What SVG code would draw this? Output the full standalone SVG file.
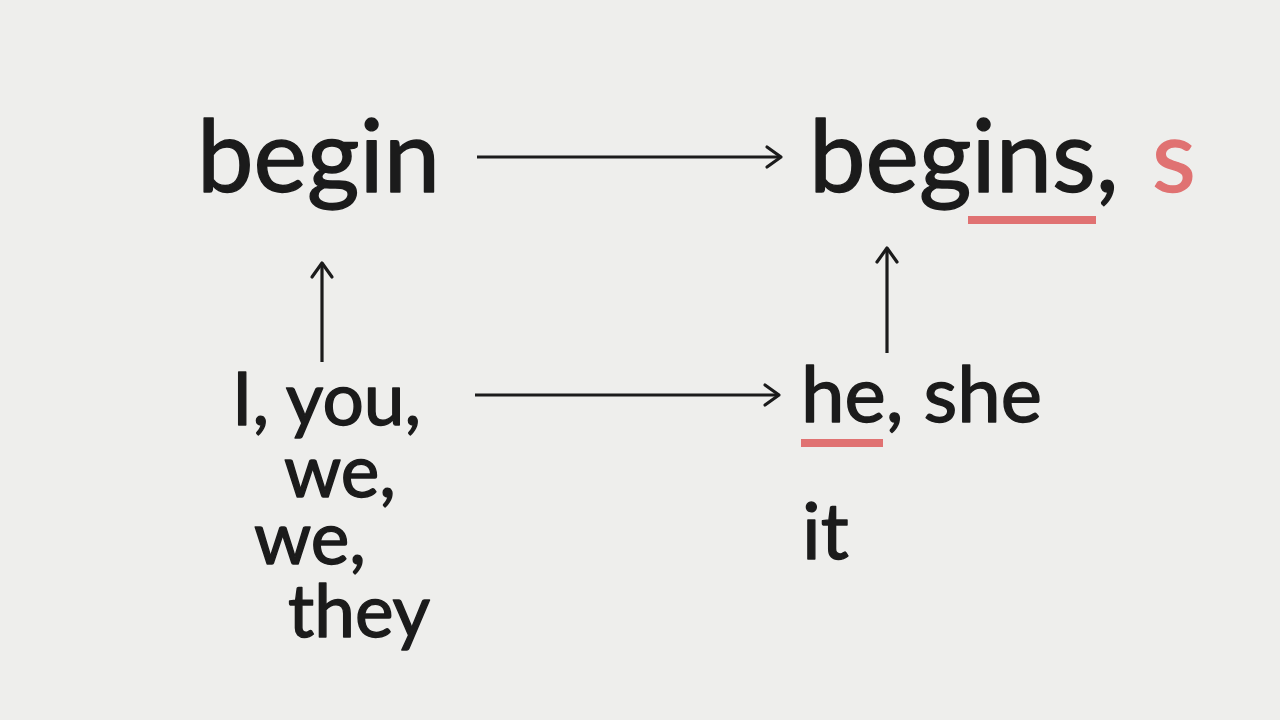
<svg xmlns="http://www.w3.org/2000/svg" width="1280" height="720" viewBox="0 0 1280 720">
<defs>
<style>
.t{font-family:Lato,"Open Sans","Liberation Sans",sans-serif;fill:#1b1b1b;stroke:#1b1b1b;stroke-width:1.4;stroke-linejoin:round}
.big{font-size:101px}
.mid{font-size:78px}
.sm{font-size:73px}
.pink{fill:#e07272;stroke:#e07272}
.ul{stroke:#e07272;stroke-width:8}
.ln{stroke:#1b1b1b;stroke-width:3.2;fill:none}
</style>
<marker id="ah" viewBox="0 0 26 26" refX="23" refY="13" markerWidth="26" markerHeight="26" markerUnits="userSpaceOnUse" orient="auto">
<path d="M9 3 L23 13 L9 23" fill="none" stroke="#1b1b1b" stroke-width="3.2" stroke-linecap="round" stroke-linejoin="round"/>
</marker>
</defs>
<rect width="1280" height="720" fill="#eeeeec"/>
<g id="connectors">
<line class="ln" x1="477" y1="157" x2="781" y2="157" marker-end="url(#ah)"/>
<line class="ln" x1="475" y1="395" x2="779" y2="395" marker-end="url(#ah)"/>
<line class="ln" x1="322" y1="362" x2="322" y2="263" marker-end="url(#ah)"/>
<line class="ln" x1="887" y1="353" x2="887" y2="248" marker-end="url(#ah)"/>
</g>
<g id="begin">
<text class="t big" x="197" y="192">begin</text>
</g>
<g id="begins">
<text class="t big" x="809" y="192">begins,</text>
<text class="t big pink" x="1152" y="192">s</text>
<line class="ul" x1="968" y1="220" x2="1096" y2="220"/>
</g>
<g id="plural">
<text class="t sm" x="232" y="425">I, you,</text>
<text class="t sm" x="284" y="497">we,</text>
<text class="t sm" x="254" y="564">we,</text>
<text class="t sm" x="288" y="637">they</text>
</g>
<g id="singular">
<text class="t mid" x="801" y="422">he, she</text>
<line class="ul" x1="801" y1="443" x2="883" y2="443"/>
<text class="t mid" x="802" y="559">it</text>
</g>
</svg>
